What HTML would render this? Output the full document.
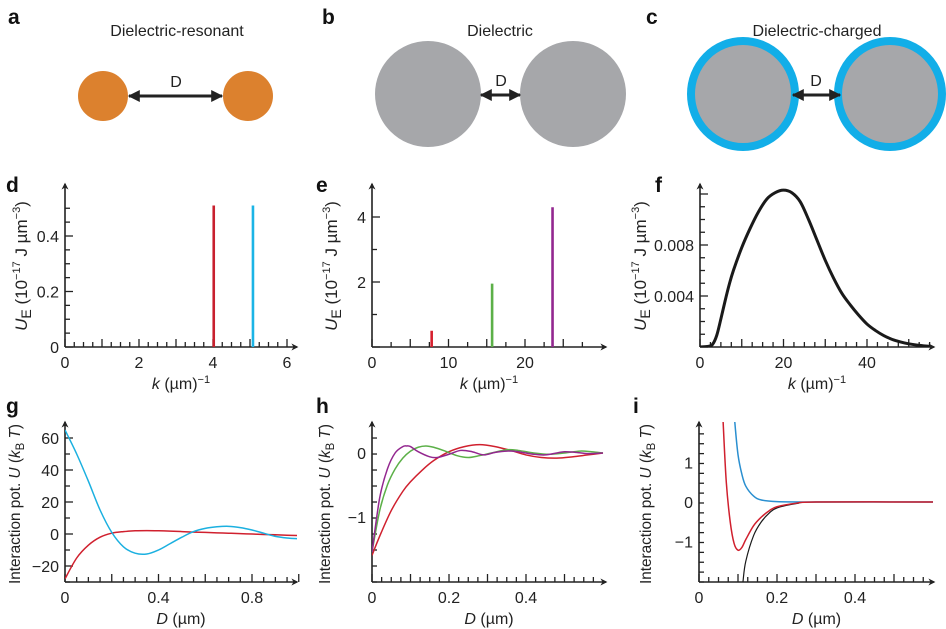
<!DOCTYPE html>
<html><head><meta charset="utf-8"><style>
html,body{margin:0;padding:0;background:#fff}
svg{display:block;font-family:"Liberation Sans",sans-serif}
</style></head><body>
<svg id="fig" width="946" height="629" viewBox="0 0 946 629">
<defs>
<marker id="ah" viewBox="0 0 10 10" refX="8" refY="5" markerWidth="7" markerHeight="7" orient="auto-start-reverse" markerUnits="userSpaceOnUse"><path d="M0,0 L10,5 L0,10 L3,5 z" fill="#222"/></marker>
<marker id="dh" viewBox="0 0 10 10" refX="9" refY="5" markerWidth="12" markerHeight="12" orient="auto-start-reverse" markerUnits="userSpaceOnUse"><path d="M0,0 L10,5 L0,10 z" fill="#222"/></marker>
</defs>
<g font-weight="bold" font-size="21" fill="#111">
<text x="8" y="24">a</text>
<text x="322" y="24">b</text>
<text x="646" y="24">c</text>
<text x="6" y="192">d</text>
<text x="316" y="192">e</text>
<text x="655" y="192">f</text>
<text x="6" y="413">g</text>
<text x="316" y="413">h</text>
<text x="633" y="413">i</text>
</g>
<g font-size="16" fill="#222" text-anchor="middle">
<text x="177" y="36">Dielectric-resonant</text>
<text x="500" y="36">Dielectric</text>
<text x="817" y="36">Dielectric-charged</text>
</g>
<g>
<ellipse cx="103" cy="96" rx="25" ry="25" fill="#dc812e"/>
<ellipse cx="248" cy="96" rx="25" ry="25" fill="#dc812e"/>
<line x1="129" y1="96" x2="222" y2="96" stroke="#222" stroke-width="3" marker-start="url(#dh)" marker-end="url(#dh)"/>
<text x="176" y="87" font-size="16" text-anchor="middle" fill="#222">D</text>
</g>
<g>
<ellipse cx="428" cy="94" rx="53" ry="53" fill="#a6a7aa"/>
<ellipse cx="573" cy="94" rx="53" ry="53" fill="#a6a7aa"/>
<line x1="481" y1="95" x2="520" y2="95" stroke="#222" stroke-width="3" marker-start="url(#dh)" marker-end="url(#dh)"/>
<text x="501" y="86" font-size="16" text-anchor="middle" fill="#222">D</text>
</g>
<g>
<ellipse cx="743" cy="94" rx="52" ry="53" fill="#a6a7aa" stroke="#12aee8" stroke-width="8"/>
<ellipse cx="890" cy="94" rx="52" ry="53" fill="#a6a7aa" stroke="#12aee8" stroke-width="8"/>
<line x1="793" y1="95" x2="840" y2="95" stroke="#222" stroke-width="3" marker-start="url(#dh)" marker-end="url(#dh)"/>
<text x="816" y="86" font-size="16" text-anchor="middle" fill="#222">D</text>
</g>
<g id="charts"></g>
</svg>
<script>
// ---- data ----
const dBarK = [4.02, 5.08];
const dBarU = [0.51, 0.51];
const dBarColors = ['#c8202e', '#1bb4e6'];
const dXTicks = [0, 2, 4, 6];
const dYTicks = [0, 0.2, 0.4];

const eBarK = [7.8, 15.7, 23.6];
const eBarU = [0.5, 1.95, 4.3];
const eBarColors = ['#d6202e', '#5cb048', '#93278f'];
const eXTicks = [0, 10, 20];
const eYTicks = [2, 4];

const fK = [0, 2, 3, 4, 5, 6, 7, 8, 10, 12, 14, 16, 18, 20, 22, 24, 26, 28, 30, 32, 34, 36, 38, 40, 42, 44, 46, 48, 50, 52, 55];
const fU = [0, 0.00005, 0.0002, 0.0009, 0.0022, 0.0036, 0.0049, 0.0060, 0.0078, 0.0093, 0.0106, 0.0116, 0.0121, 0.0123, 0.0121, 0.0114, 0.0100, 0.0084, 0.0068, 0.0054, 0.0042, 0.0033, 0.0025, 0.0018, 0.0013, 0.0009, 0.0006, 0.0004, 0.00025, 0.00015, 0.00005];
const fXTicks = [0, 20, 40];
const fYTicks = [0.004, 0.008];

const gD = [0, 0.05, 0.1, 0.15, 0.2, 0.25, 0.3, 0.35, 0.4, 0.45, 0.5, 0.55, 0.6, 0.65, 0.7, 0.75, 0.8, 0.85, 0.9, 0.95, 1.0];
const gCyan = [65, 50, 33, 15, 1, -8, -12, -12.5, -10, -6, -2, 1.5, 3.5, 4.5, 4.8, 4, 2.5, 0.5, -1.5, -2.5, -3];
const gRed = [-28, -15, -7, -2, 0.5, 1.5, 2, 2.1, 2, 1.8, 1.5, 1.2, 1, 0.7, 0.5, 0.2, 0, -0.3, -0.5, -0.8, -1];
const gXTicks = [0, 0.4, 0.8];
const gYTicks = [-20, 0, 20, 40, 60];

const hDPurple = [0, 0.02, 0.04, 0.06, 0.08, 0.09, 0.1, 0.12, 0.15, 0.17, 0.2, 0.23, 0.26, 0.29, 0.32, 0.35, 0.38, 0.42, 0.45, 0.48, 0.5, 0.53, 0.56, 0.6];
const hPurple = [-1.55, -0.7, -0.25, 0.0, 0.1, 0.11, 0.1, 0.02, -0.06, -0.07, -0.02, 0.04, 0.02, -0.03, 0.01, 0.03, 0.02, -0.02, -0.03, 0.0, 0.02, 0.01, -0.01, 0];
const hDGreen = [0, 0.02, 0.04, 0.06, 0.08, 0.1, 0.12, 0.14, 0.16, 0.19, 0.22, 0.25, 0.28, 0.31, 0.35, 0.38, 0.42, 0.46, 0.5, 0.54, 0.57, 0.6];
const hGreen = [-1.55, -0.9, -0.5, -0.25, -0.08, 0.03, 0.09, 0.11, 0.09, 0.03, -0.04, -0.07, -0.04, 0.0, 0.05, 0.04, 0.0, -0.02, 0.0, 0.03, 0.02, 0];
const hDRed = [0, 0.02, 0.05, 0.08, 0.1, 0.13, 0.16, 0.2, 0.24, 0.28, 0.32, 0.36, 0.4, 0.44, 0.48, 0.52, 0.56, 0.6];
const hRed = [-1.6, -1.3, -0.9, -0.6, -0.45, -0.27, -0.12, 0.02, 0.1, 0.13, 0.1, 0.04, -0.03, -0.07, -0.08, -0.06, -0.03, 0];
const hXTicks = [0, 0.2, 0.4];
const hYTicks = [-1, 0];

const iDBlue = [0.088, 0.092, 0.1, 0.11, 0.12, 0.14, 0.16, 0.2, 0.3, 0.6];
const iBlue = [2.6, 2.0, 1.2, 0.7, 0.4, 0.15, 0.05, 0.01, 0, 0];
const iDRed = [0.058, 0.062, 0.07, 0.08, 0.09, 0.1, 0.11, 0.12, 0.14, 0.16, 0.18, 0.2, 0.25, 0.3, 0.6];
const iRed = [3.0, 2.0, 0.5, -0.5, -1.05, -1.22, -1.15, -0.95, -0.6, -0.38, -0.22, -0.12, -0.03, 0, 0];
const iDBlack = [0.11, 0.113, 0.12, 0.14, 0.16, 0.18, 0.2, 0.25, 0.3, 0.6];
const iBlack = [-2.4, -2.0, -1.5, -0.85, -0.5, -0.28, -0.15, -0.04, 0, 0];
const iXTicks = [0, 0.2, 0.4];
const iYTicks = [-1, 0, 1];

// ---- drawing ----
const NS = 'http://www.w3.org/2000/svg';
const root = document.getElementById('charts');
function mk(tag, attrs, parent) {
  const e = document.createElementNS(NS, tag);
  for (const k in attrs) e.setAttribute(k, attrs[k]);
  (parent || root).appendChild(e);
  return e;
}
function fmt(v) {
  let s = String(v);
  if (v < 0) s = '\u2212' + String(-v);
  return s;
}
function spline(xs, ys, sx, sy) {
  const p = xs.map((x, i) => [sx(x), sy(ys[i])]);
  let d = 'M' + p[0][0].toFixed(2) + ',' + p[0][1].toFixed(2);
  for (let i = 0; i < p.length - 1; i++) {
    const p0 = p[i - 1] || p[i], p1 = p[i], p2 = p[i + 1], p3 = p[i + 2] || p2;
    const c1x = p1[0] + (p2[0] - p0[0]) / 6, c1y = p1[1] + (p2[1] - p0[1]) / 6;
    const c2x = p2[0] - (p3[0] - p1[0]) / 6, c2y = p2[1] - (p3[1] - p1[1]) / 6;
    d += ' C' + c1x.toFixed(2) + ',' + c1y.toFixed(2) + ' ' + c2x.toFixed(2) + ',' + c2y.toFixed(2) + ' ' + p2[0].toFixed(2) + ',' + p2[1].toFixed(2);
  }
  return d;
}
function panel(o) {
  const g = mk('g', {});
  
  
  const sx = v => o.x0 + (v - o.xmin) / (o.xmax - o.xmin) * (o.x1 - o.x0);
  const sy = v => o.y0 - (v - o.ymin) / (o.ymax - o.ymin) * (o.y0 - o.y1);
  const cid = 'clip-' + o.name;
  const cp = mk('clipPath', { id: cid }, g);
  mk('rect', { x: o.x0, y: o.yTop, width: o.xEnd - o.x0, height: o.y0 - o.yTop }, cp);
  for (let v = o.xmin; v <= o.xTickEnd + 1e-9; v += o.xMinor) {
    const major = Math.abs(v / o.xMajor - Math.round(v / o.xMajor)) < 1e-6;
    const t = mk('line', { x1: sx(v), x2: sx(v), y1: o.y0, y2: o.y0 - (major ? 8 : 5), stroke: '#222', 'stroke-width': 1.3 }, g);
    
    
  }
  for (let v = o.ymin; v <= o.yTickEnd + 1e-9; v += o.yMinor) {
    const major = Math.abs((v - o.yMajorBase) / o.yMajor - Math.round((v - o.yMajorBase) / o.yMajor)) < 1e-6;
    const t = mk('line', { x1: o.x0, x2: o.x0 + (major ? 8 : 5), y1: sy(v), y2: sy(v), stroke: '#222', 'stroke-width': 1.3 }, g);
    
    
  }
  const xa = mk('line', { x1: o.x0, y1: o.y0, x2: o.xEnd, y2: o.y0, stroke: '#222', 'stroke-width': 1.6, 'marker-end': 'url(#ah)' }, g);
  
  
  const ya = mk('line', { x1: o.x0, y1: o.y0, x2: o.x0, y2: o.yTop, stroke: '#222', 'stroke-width': 1.6, 'marker-end': 'url(#ah)' }, g);
  
  
  o.xTicks.forEach(v => {
    const t = mk('text', { x: sx(v), y: o.y0 + 21, 'font-size': 16, 'text-anchor': 'middle', fill: '#222' }, g);
    t.textContent = fmt(v);
    
    
  });
  o.yTicks.forEach(v => {
    const t = mk('text', { x: o.x0 - 6, y: sy(v) + 6, 'font-size': 16, 'text-anchor': 'end', fill: '#222' }, g);
    t.textContent = fmt(v);
    
    
  });
  const xt = mk('text', { x: (o.x0 + o.xEnd) / 2, y: o.y0 + 42, 'font-size': 16, 'text-anchor': 'middle', fill: '#222' }, g);
  xt.innerHTML = o.xTitle;
  
  
  const yAttrs = { x: 0, y: 0, 'font-size': o.yFs || 17, 'text-anchor': 'middle', fill: '#222', transform: 'translate(' + o.yTitleX + ',' + o.yTitleY + ') rotate(-90)' };
  if (o.yLen) { yAttrs.textLength = o.yLen; yAttrs.lengthAdjust = 'spacingAndGlyphs'; }
  const yt = mk('text', yAttrs, g);
  yt.innerHTML = o.yTitle;
  
  
  const pg = mk('g', { 'clip-path': 'url(#' + cid + ')' }, g);
  (o.bars || []).forEach(b => {
    b.k.forEach((k, i) => {
      const r = mk('line', { x1: sx(k), x2: sx(k), y1: o.y0, y2: sy(b.u[i]), stroke: b.colors[i], 'stroke-width': 2.6 }, pg);
      
      
    });
  });
  (o.lines || []).forEach(l => {
    const p = mk('path', { d: spline(l.x, l.y, sx, sy), fill: 'none', stroke: l.color, 'stroke-width': l.w || 1.5 }, pg);
    
    
  });
}
const UE2 = '<tspan font-style="italic">U</tspan><tspan dy="4" font-size="14">E</tspan><tspan dy="-4"> (10</tspan><tspan dy="-7" font-size="11">\u221217</tspan><tspan dy="7"> J \u00b5m</tspan><tspan dy="-7" font-size="11">\u22123</tspan><tspan dy="7">)</tspan>';
const KT = '<tspan font-style="italic">k</tspan> (\u00b5m)<tspan dy="-6" font-size="11">\u22121</tspan>';
const IP = 'Interaction pot. <tspan font-style="italic">U</tspan> (<tspan font-style="italic">k</tspan><tspan dy="4" font-size="12">B</tspan><tspan dy="-4"> </tspan><tspan font-style="italic">T</tspan>)';
const DT = '<tspan font-style="italic">D</tspan> (\u00b5m)';

panel({ name: 'chart-d', x0: 65, x1: 287, xmin: 0, xmax: 6, xEnd: 297, y0: 347, y1: 236, ymin: 0, ymax: 0.4, yTop: 184,
  xMinor: 0.25, xMajor: 1, xTickEnd: 6, yMinor: 0.05, yMajor: 0.2, yMajorBase: 0, yTickEnd: 0.5,
  xTicks: dXTicks, yTicks: dYTicks, xTitle: KT, yTitle: UE2, yTitleX: 27, yTitleY: 266,
  bars: [{ k: dBarK, u: dBarU, colors: dBarColors }] });
panel({ name: 'chart-e', x0: 372, x1: 525, xmin: 0, xmax: 20, xEnd: 606, y0: 347, y1: 217, ymin: 0, ymax: 4, yTop: 184,
  xMinor: 2.5, xMajor: 5, xTickEnd: 27.5, yMinor: 1, yMajor: 2, yMajorBase: 0, yTickEnd: 4.5,
  xTicks: eXTicks, yTicks: eYTicks, xTitle: KT, yTitle: UE2, yTitleX: 337, yTitleY: 266,
  bars: [{ k: eBarK, u: eBarU, colors: eBarColors }] });
panel({ name: 'chart-f', x0: 700, x1: 867, xmin: 0, xmax: 40, xEnd: 934, y0: 347, y1: 245, ymin: 0, ymax: 0.008, yTop: 184,
  xMinor: 2.5, xMajor: 10, xTickEnd: 55, yMinor: 0.001, yMajor: 0.004, yMajorBase: 0, yTickEnd: 0.012,
  xTicks: fXTicks, yTicks: fYTicks, xTitle: KT, yTitle: UE2, yTitleX: 646, yTitleY: 266,
  lines: [{ x: fK, y: fU, color: '#1a1a1a', w: 3, name: 'energy-spectrum-curve' }] });
panel({ name: 'chart-g', x0: 65, x1: 252, xmin: 0, xmax: 0.8, xEnd: 297, y0: 582, y1: 438, ymin: -30, ymax: 60, yTop: 422,
  xMinor: 0.05, xMajor: 0.2, xTickEnd: 1.0, yMinor: 10, yMajor: 20, yMajorBase: -20, yTickEnd: 60,
  xTicks: gXTicks, yTicks: gYTicks, xTitle: DT, yTitle: IP, yTitleX: 20, yTitleY: 504, yFs: 16, yLen: 160,
  lines: [{ x: gD, y: gRed, color: '#d0202e', name: 'potential-red' }, { x: gD, y: gCyan, color: '#1bb0e0', name: 'potential-cyan' }] });
panel({ name: 'chart-h', x0: 372, x1: 526, xmin: 0, xmax: 0.4, xEnd: 606, y0: 582, y1: 453, ymin: -2.016, ymax: 0, yTop: 422,
  xMinor: 0.025, xMajor: 0.1, xTickEnd: 0.575, yMinor: 0.25, yMajor: 1, yMajorBase: 0, yTickEnd: 0.26,
  xTicks: hXTicks, yTicks: hYTicks, xTitle: DT, yTitle: IP, yTitleX: 330, yTitleY: 504, yFs: 16, yLen: 160,
  lines: [{ x: hDRed, y: hRed, color: '#d0202e', name: 'potential-red' }, { x: hDGreen, y: hGreen, color: '#5cb048', name: 'potential-green' }, { x: hDPurple, y: hPurple, color: '#93278f', name: 'potential-purple' }] });
panel({ name: 'chart-i', x0: 699, x1: 855, xmin: 0, xmax: 0.4, xEnd: 934, y0: 582, y1: 502, ymin: -2.025, ymax: 0, yTop: 422,
  xMinor: 0.025, xMajor: 0.1, xTickEnd: 0.575, yMinor: 0.25, yMajor: 1, yMajorBase: 0, yTickEnd: 1.76,
  xTicks: iXTicks, yTicks: iYTicks, xTitle: DT, yTitle: IP, yTitleX: 651, yTitleY: 504, yFs: 16, yLen: 160,
  lines: [{ x: iDBlack, y: iBlack, color: '#1a1a1a', w: 1.2, name: 'potential-black' }, { x: iDBlue, y: iBlue, color: '#2a8fd0', name: 'potential-blue' }, { x: iDRed, y: iRed, color: '#d0202e', name: 'potential-red' }] });
</script>
</body></html>
